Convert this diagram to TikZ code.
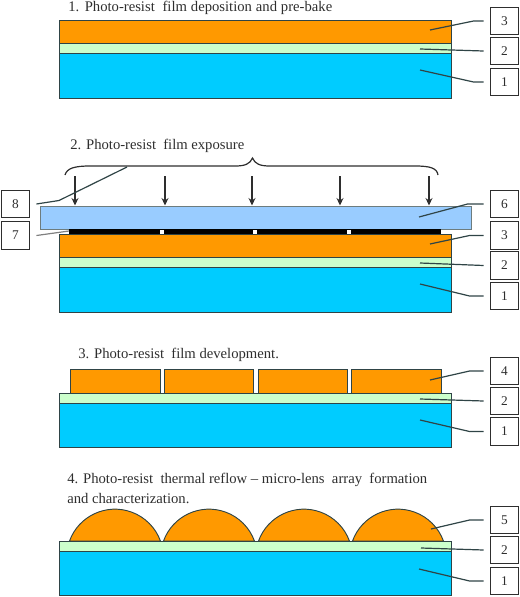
\documentclass[tikz,border=0pt]{standalone}
\usepackage{fontspec}
\setmainfont{Liberation Serif}
\usetikzlibrary{arrows.meta}
\definecolor{resist}{HTML}{FF9900}
\definecolor{buffer}{HTML}{CCFFCC}
\definecolor{substrate}{HTML}{00CCFF}
\definecolor{plate}{HTML}{99CCFF}
\definecolor{edge}{HTML}{2F4446}
\definecolor{ink}{HTML}{2E2E2E}
\newcommand{\layerrect}[5]{\path[layer,fill=#1] (#2,#3) rectangle (#4,#5);}
\newcommand{\stackbase}[1]{%
  \layerrect{buffer}{59}{#1}{451.5}{#1+10}
  \layerrect{substrate}{59}{#1+10}{451.5}{#1+54.5}}
\newcommand{\numbox}[3]{\node[numbox] (#1) at (504.5,#2) {#3};}
% bent leader: box, elbow x, tip x, tip y
\newcommand{\bentlead}[4]{%
  \coordinate (#1tip) at (#3,#4);
  \draw[lead] ([xshift=-4.5pt]#1.west) -- ++(-#2,0) -- (#1tip);}
\newcommand{\flatlead}[3]{%
  \coordinate (#1tip) at (#2,#3);
  \draw[lead] ([xshift=-4.5pt]#1.west) -- (#1tip);}
\newcommand{\lens}[1]{\draw[layer,fill=resist] (#1,541) arc[start angle=200,end angle=340,radius=48.4] -- cycle;}
\newcommand{\arrowdown}[2]{%
  \coordinate (#1a) at (#2,176); \coordinate (#1b) at (#2,205.5);
  \draw[exparrow] (#1a) -- (#1b);}
\tikzset{
  x=0.75pt,y=-0.75pt,
  layer/.style={draw=edge,line width=0.7pt,line join=miter},
  numbox/.style={draw=ink,line width=0.8pt,fill=white,minimum width=21.6pt,minimum height=20.6pt,inner sep=0pt,text=ink,font=\fontsize{10}{11}\selectfont},
  lead/.style={draw=edge,line width=0.9pt},
  exparrow/.style={draw=ink,line width=0.8pt,-{Stealth[length=5.6pt,width=5.2pt]}},
  title/.style={anchor=west,inner sep=0pt,text=ink,font=\fontsize{11}{13}\selectfont},
}
\begin{document}
\begin{tikzpicture}
\useasboundingbox (0,0) rectangle (520,597);
% ---- Step 1
\node[title] (t1) at (68,8) {\hbox to 198pt{1. Photo-resist\ \ film deposition and pre-bake}};
\layerrect{resist}{59}{20}{451.5}{43.5}
\stackbase{43.5}
\numbox{a3}{21}{3}\numbox{a2}{51}{2}\numbox{a1}{82}{1}
\bentlead{a3}{10}{430}{30}
\flatlead{a2}{420}{49}
\bentlead{a1}{10}{420}{70}
% ---- Step 2
\node[title] (t2) at (70,146) {\hbox to 130.5pt{2. Photo-resist\ \ film exposure}};
\draw[lead,draw=ink] (65,175) .. controls (67,168) and (75,166) .. (90,166) -- (235,166)
  .. controls (245,166) and (250,164) .. (252.5,158) .. controls (255,164) and (260,166) .. (270,166) -- (415,166)
  .. controls (430,166) and (437,168) .. (438,175);
\path[draw=edge!70,line width=0.7pt,fill=plate] (40,206) rectangle (471,229);
\fill[black] (69,229) rectangle (441,234.5);
\foreach \mx in {162,255,349}{\fill[white] (\mx-2,229.5) rectangle (\mx+2,233.5);}
\layerrect{resist}{59}{234.5}{451.5}{257.5}
\stackbase{257.5}
\arrowdown{p}{75}\arrowdown{q}{165}\arrowdown{r}{252}\arrowdown{s}{340}\arrowdown{u}{429}
\node[numbox] (b8) at (15.5,204) {8};
\node[numbox] (b7) at (15.5,235.5) {7};
\numbox{b6}{204}{6}\numbox{b3}{235.5}{3}\numbox{b2}{265.5}{2}\numbox{b1}{296}{1}
\coordinate (b8tip) at (127,167);
\draw[lead] ([xshift=4.5pt]b8.east) -- (59,200.5) -- (b8tip);
\coordinate (b7tip) at (69,231);
\draw[lead,draw=gray] ([xshift=4.5pt]b7.east) -- (b7tip);
\bentlead{b6}{16}{419}{217}
\bentlead{b3}{14}{430}{244}
\flatlead{b2}{420}{263}
\bentlead{b1}{14}{420}{284}
% ---- Step 3
\node[title] (t3) at (78,355) {\hbox to 150.5pt{3. Photo-resist\ \ film development.}};
\layerrect{resist}{70}{369}{160}{393}
\layerrect{resist}{164}{369}{253.5}{393}
\layerrect{resist}{258}{369}{347}{393}
\layerrect{resist}{351.5}{369}{441}{393}
\stackbase{393}
\numbox{c4}{371}{4}\numbox{c2}{401}{2}\numbox{c1}{431.5}{1}
\bentlead{c4}{14}{430}{380}
\flatlead{c2}{420}{399}
\bentlead{c1}{14}{420}{420}
% ---- Step 4
\node[title] (t4) at (67,480) {\hbox to 270pt{4. Photo-resist\ \ thermal reflow -- micro-lens\ \ array\ \ formation}};
\node[title] (t5) at (67,498.5) {and characterization.};
\lens{69.5}\lens{163.5}\lens{258.5}\lens{352.5}
\stackbase{541}
\numbox{d5}{520}{5}\numbox{d2}{550}{2}\numbox{d1}{581}{1}
\bentlead{d5}{14}{431}{529}
\flatlead{d2}{421}{548}
\bentlead{d1}{14}{419}{569}
\end{tikzpicture}
\end{document}
